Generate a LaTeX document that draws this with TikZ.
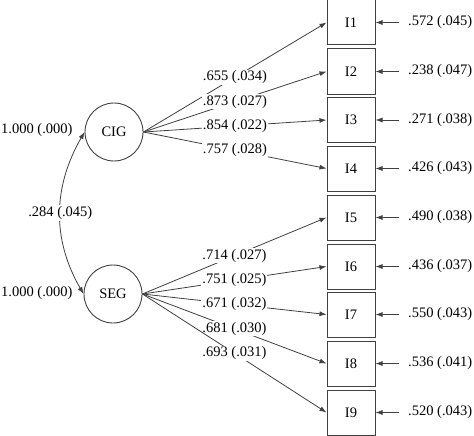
\documentclass[tikz,border=0pt]{standalone}
\usepackage{fontspec}
\setmainfont{Liberation Serif}
\usetikzlibrary{arrows.meta}
\begin{document}
\begin{tikzpicture}[x=1pt,y=-1pt,
  every node/.style={font=\fontsize{14.5}{16}\selectfont},
  lat/.style={circle,draw=black!75,line width=0.9pt,minimum size=58pt,inner sep=0pt},
  obs/.style={rectangle,draw=black!75,line width=1pt,minimum width=48pt,minimum height=45pt,inner sep=0pt},
  arr/.style={draw=black!75,line width=0.8pt,-{Latex[length=7pt,width=5pt]}},
  lab/.style={fill=white,inner sep=1pt},
  txt/.style={inner sep=0pt}]
\useasboundingbox (0,0) rectangle (474,436);
\node[lat] (CIG) at (114,132) {CIG};
\node[lat] (SEG) at (113,294) {SEG};
\foreach \i/\y in {1/22.5,2/71.5,3/120,4/168.5,5/217.5,6/266.5,7/314.5,8/363.5,9/412.5}{
  \node[obs] (I\i) at (351,\y) {I\i};
  \coordinate (e\i) at (399,\y);
}
% loadings
\draw[arr] (CIG.east) -- node[lab] {.655 (.034)} (I1.west);
\draw[arr] (CIG.east) -- node[lab] {.873 (.027)} (I2.west);
\draw[arr] (CIG.east) -- node[lab] {.854 (.022)} (I3.west);
\draw[arr] (CIG.east) -- node[lab] {.757 (.028)} (I4.west);
\draw[arr] (SEG.east) -- node[lab] {.714 (.027)} (I5.west);
\draw[arr] (SEG.east) -- node[lab] {.751 (.025)} (I6.west);
\draw[arr] (SEG.east) -- node[lab] {.671 (.032)} (I7.west);
\draw[arr] (SEG.east) -- node[lab] {.681 (.030)} (I8.west);
\draw[arr] (SEG.east) -- node[lab] {.693 (.031)} (I9.west);
% residuals
\foreach \i in {1,...,9}{
  \draw[arr] (e\i) -- (I\i.east);
}
\node[txt,anchor=west] (t1) at (408,22.5) {.572 (.045)};
\node[txt,anchor=west] (t2) at (408,71.5) {.238 (.047)};
\node[txt,anchor=west] (t3) at (408,120) {.271 (.038)};
\node[txt,anchor=west] (t4) at (408,168.5) {.426 (.043)};
\node[txt,anchor=west] (t5) at (408,217.5) {.490 (.038)};
\node[txt,anchor=west] (t6) at (408,266.5) {.436 (.037)};
\node[txt,anchor=west] (t7) at (408,314.5) {.550 (.043)};
\node[txt,anchor=west] (t8) at (408,363.5) {.536 (.041)};
\node[txt,anchor=west] (t9) at (408,412.5) {.520 (.043)};
% covariance
\draw[draw=black!75,line width=0.8pt,{Latex[length=7pt,width=5pt]}-{Latex[length=7pt,width=5pt]}]
  (CIG.west) to[out=240,in=120] node[lab,pos=0.5] {.284 (.045)} (SEG.west);
\node[txt,anchor=west] (v1) at (1,130) {1.000 (.000)};
\node[txt,anchor=west] (v2) at (1,293) {1.000 (.000)};
\end{tikzpicture}
\end{document}
